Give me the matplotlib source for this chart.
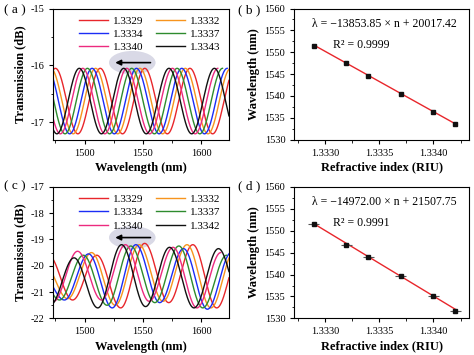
import numpy as np
import matplotlib
matplotlib.use("Agg")
import matplotlib.pyplot as plt
from matplotlib.patches import Ellipse
from matplotlib.ticker import AutoMinorLocator

plt.rcParams["font.family"] = ["Liberation Serif", "DejaVu Serif"]
plt.rcParams["axes.unicode_minus"] = False

# ---- data -----------------------------------------------------------------
colors = ["#e8262b", "#f7941d", "#1b2df5", "#2e8b2e", "#ec2a7f", "#111111"]
labels_a = ["1.3329", "1.3332", "1.3334", "1.3337", "1.3340", "1.3343"]
labels_c = ["1.3329", "1.3332", "1.3334", "1.3337", "1.3340", "1.3342"]

# panel (a): peak wavelengths of each spectrum (nm), troughs sit half way
peaks_a = [
    [1437, 1475, 1513.5, 1551.7, 1590.5, 1629.5],
    [1433, 1471, 1509.5, 1547.5, 1586.5, 1625.5],
    [1430, 1468, 1506.5, 1544.6, 1583.5, 1622.5],
    [1426, 1464, 1502.5, 1540.5, 1579.5, 1618.5],
    [1422, 1460, 1498.5, 1536.3, 1575.5, 1614.5],
    [1419, 1457, 1495.5, 1533.6, 1572.5, 1611.5, 1650],
]
peak_level_a = -16.05
trough_level_a = -17.2

# panel (c): peak wavelengths, peak levels and trough levels (dB)
peaks_c = [
    [1469, 1510.5, 1551.6, 1593, 1634],
    [1465, 1506, 1546.8, 1588, 1629],
    [1462, 1503.5, 1544.1, 1585, 1626],
    [1458, 1499, 1539.7, 1581, 1622],
    [1453, 1494, 1535.1, 1576, 1617],
    [1450, 1491, 1531.8, 1573, 1615, 1656],
]
peak_vals_c = [
    [-19.6, -19.6, -19.15, -19.2, -19.4],
    [-19.9, -19.5, -19.2, -19.2, -19.4],
    [-20.2, -19.55, -19.2, -19.35, -19.5],
    [-20.0, -19.6, -19.25, -19.25, -19.6],
    [-19.7, -19.45, -19.2, -19.3, -19.5],
    [-19.9, -19.7, -19.2, -19.3, -19.35, -19.6],
]
trough_vals_c = [
    [-21.3, -21.6, -21.4, -21.6],
    [-21.25, -21.5, -21.35, -21.6],
    [-21.3, -21.6, -21.4, -21.65],
    [-21.3, -21.5, -21.4, -21.6],
    [-21.35, -21.3, -21.35, -21.6],
    [-21.5, -21.6, -21.55, -21.6, -21.5],
]

# panels (b) and (d): tracked resonance wavelength vs refractive index
n_b = [1.3329, 1.3332, 1.3334, 1.3337, 1.3340, 1.3342]
wl_b = [1551.5, 1547.5, 1544.6, 1540.5, 1536.3, 1533.6]
slope_b, icpt_b = -13853.85, 20017.42
r2_b = "0.9999"

n_d = [1.3329, 1.3332, 1.3334, 1.3337, 1.3340, 1.3342]
wl_d = [1551.6, 1546.8, 1544.1, 1539.7, 1535.1, 1531.8]
xerr_d = [0.00005, 0.00005, 0.00005, 0.00005, 0.00005, 0.00005]
slope_d, icpt_d = -14972.00, 21507.75
r2_d = "0.9991"


def spectrum(peaks, peak_vals, trough_vals, wl):
    """Join peaks and half-way troughs with half-cosine segments."""
    xs, ys = [], []
    for i, p in enumerate(peaks):
        xs.append(p)
        ys.append(peak_vals[i])
        if i < len(peaks) - 1:
            xs.append((p + peaks[i + 1]) / 2)
            ys.append(trough_vals[i])
    xs, ys = np.array(xs), np.array(ys)
    out = np.full_like(wl, np.nan)
    for k in range(len(xs) - 1):
        m = (wl >= xs[k]) & (wl <= xs[k + 1])
        t = (wl[m] - xs[k]) / (xs[k + 1] - xs[k])
        w = (1 - np.cos(np.pi * t)) / 2
        out[m] = ys[k] + (ys[k + 1] - ys[k]) * w
    return out


def style_axes(ax):
    ax.tick_params(direction="out", labelsize=7.5, length=3, width=0.8,
                   top=False, right=False)
    ax.tick_params(which="minor", direction="out", length=1.8, width=0.6)
    ax.xaxis.set_minor_locator(AutoMinorLocator(2))
    ax.yaxis.set_minor_locator(AutoMinorLocator(2))
    for s in ax.spines.values():
        s.set_linewidth(0.8)


def spectra_panel(ax, curves, labels, ylim, yticks, arrow_y, ell_h):
    wl = np.linspace(1473, 1624, 1200)
    for curve, c, lab in zip(curves, colors, labels):
        ax.plot(wl, spectrum(*curve, wl), color=c, lw=1.0, label=lab)
    ax.add_patch(Ellipse((1541, arrow_y), 40, ell_h, color="#d9d9e6",
                         zorder=0, lw=0))
    ax.annotate("", xy=(1524, arrow_y), xytext=(1559, arrow_y),
                arrowprops=dict(arrowstyle="-|>", color="black", lw=1.2,
                                mutation_scale=8), zorder=5)
    ax.set_xlim(1473, 1624)
    ax.set_ylim(*ylim)
    ax.set_yticks(yticks)
    ax.set_xticks([1500, 1550, 1600])
    ax.set_xlabel("Wavelength (nm)", fontsize=9, fontweight="bold", labelpad=3)
    ax.set_ylabel("Transmission (dB)", fontsize=9, fontweight="bold", labelpad=3)
    # legend reads row by row in the reference
    h, l = ax.get_legend_handles_labels()
    order = [0, 2, 4, 1, 3, 5]
    ax.legend([h[i] for i in order], [l[i] for i in order], ncol=2,
              loc="upper center", bbox_to_anchor=(0.55, 1.02),
              frameon=False, fontsize=8, handlelength=2.6, columnspacing=1.2,
              labelspacing=0.32, handletextpad=0.4)
    style_axes(ax)


def fit_panel(ax, n, wl, slope, icpt, r2, xerr=None):
    nn = np.array([n[0], n[-1]])
    ax.plot(nn, slope * nn + icpt, color="#e8262b", lw=1.0, zorder=2)
    ax.errorbar(n, wl, xerr=xerr, fmt="s", ms=3.5, color="#111111",
                mfc="#111111", mec="#111111", ecolor="#555555", elinewidth=0.8,
                zorder=3)
    ax.set_xlim(1.33272, 1.33433)
    ax.set_ylim(1530, 1560)
    ax.set_xticks([1.3330, 1.3335, 1.3340])
    ax.set_xticklabels(["1.3330", "1.3335", "1.3340"])
    ax.set_yticks([1530, 1535, 1540, 1545, 1550, 1555, 1560])
    ax.set_xlabel("Refractive index (RIU)", fontsize=9, fontweight="bold",
                  labelpad=3)
    ax.set_ylabel("Wavelength (nm)", fontsize=9, fontweight="bold", labelpad=3)
    ax.text(0.1, 0.86, "λ = −%.2f × n + %.2f" % (-slope, icpt),
            transform=ax.transAxes, fontsize=8.5)
    ax.text(0.22, 0.70, "R² = " + r2, transform=ax.transAxes, fontsize=8.5)
    style_axes(ax)


fig = plt.figure(figsize=(4.74, 3.55), dpi=100)
ax_a = fig.add_axes([0.112, 0.607, 0.371, 0.369])
ax_b = fig.add_axes([0.621, 0.607, 0.369, 0.369])
ax_c = fig.add_axes([0.112, 0.103, 0.371, 0.371])
ax_d = fig.add_axes([0.621, 0.103, 0.369, 0.371])

curves_a = [(p, [peak_level_a] * len(p), [trough_level_a] * (len(p) - 1))
            for p in peaks_a]
curves_c = list(zip(peaks_c, peak_vals_c, trough_vals_c))

spectra_panel(ax_a, curves_a, labels_a, (-17.3, -15), [-17, -16, -15],
              -15.95, 0.41)
spectra_panel(ax_c, curves_c, labels_c, (-22, -17),
              [-22, -21, -20, -19, -18, -17], -18.93, 0.87)
fit_panel(ax_b, n_b, wl_b, slope_b, icpt_b, r2_b)
fit_panel(ax_d, n_d, wl_d, slope_d, icpt_d, r2_d, xerr=xerr_d)

for x, y, t in [(0.008, 0.962, "( a )"), (0.503, 0.962, "( b )"),
                (0.008, 0.468, "( c )"), (0.503, 0.468, "( d )")]:
    fig.text(x, y, t, fontsize=9.5)

fig.savefig("out.png", dpi=100)
